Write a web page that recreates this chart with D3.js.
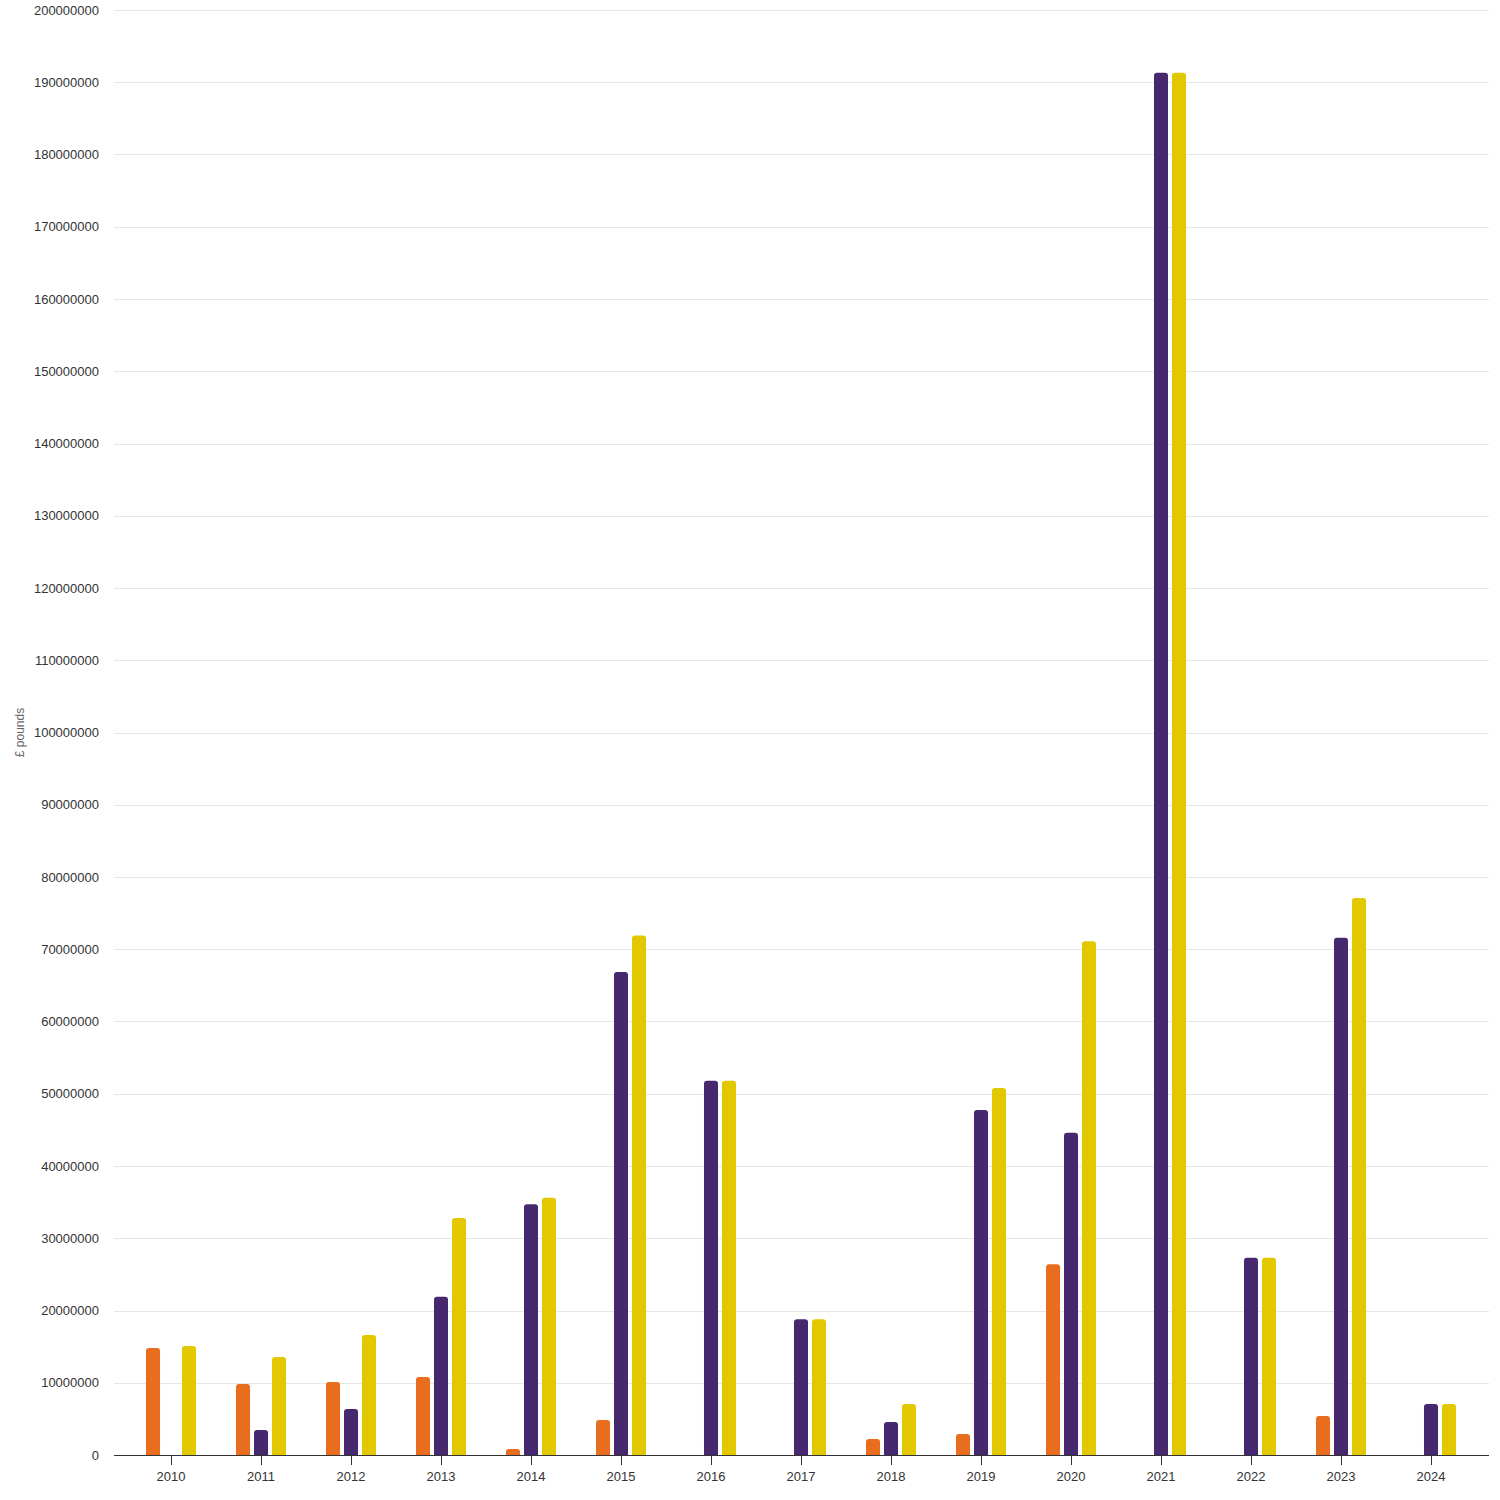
<!DOCTYPE html>
<html><head><meta charset="utf-8">
<script src="https://cdn.jsdelivr.net/npm/d3@7"></script>
<style>body{margin:0;background:#fff;font-family:"Liberation Sans",Arial,sans-serif;}</style>
</head><body><div id="chart"></div>
<script>
const years = ["2010","2011","2012","2013","2014","2015","2016","2017","2018","2019","2020","2021","2022","2023","2024"];
const seriesNames = ["Series A","Series B","Series C"];
const seriesA = [14800000, 9830000, 10100000, 10800000, 830000, 4840000, 0, 0, 2200000, 2900000, 26400000, 0, 0, 5400000, 0];
const seriesB = [0, 3460000, 6370000, 21900000, 34700000, 66850000, 51800000, 18800000, 4570000, 47750000, 44600000, 191300000, 27300000, 71600000, 7060000];
const seriesC = [15100000, 13560000, 16600000, 32800000, 35600000, 71900000, 51800000, 18800000, 7060000, 50800000, 71100000, 191300000, 27300000, 77100000, 7060000];
const colors = ["#E86D1F", "#46286F", "#E1C800"];
const yTicks = d3.range(0, 200000001, 10000000);
const yLabel = "£ pounds";

const W = 1500, H = 1500;
const plotL = 114, plotR = 1489, plotTop = 10, plotBottom = 1455;
const svg = d3.select("#chart").append("svg").attr("width", W).attr("height", H);

const x = d3.scaleBand().domain(years).range([126, 1476]).paddingInner(0).paddingOuter(0);
const x1 = d3.scaleBand().domain([0,1,2]).range([-25, 25]).paddingInner(0.22).paddingOuter(0);
const y = d3.scaleLinear().domain([0, 200000000]).range([plotBottom, plotTop]);

// grid
svg.append("g").selectAll("line").data(yTicks.filter(d => d > 0)).join("line")
  .attr("x1", plotL).attr("x2", plotR)
  .attr("y1", d => Math.round(y(d)) + 0.5).attr("y2", d => Math.round(y(d)) + 0.5)
  .attr("stroke", "#e6e6e6").attr("stroke-width", 1);

// y tick labels
svg.append("g").selectAll("text").data(yTicks).join("text")
  .attr("x", 99).attr("y", d => y(d)).attr("dy", "0.35em")
  .attr("text-anchor", "end").attr("font-size", 13).attr("fill", "#333")
  .text(d => d3.format("d")(d));

// y label
svg.append("text").attr("transform", `translate(24,${(plotTop+plotBottom)/2}) rotate(-90)`)
  .attr("text-anchor", "middle").attr("font-size", 12).attr("fill", "#666").text(yLabel);

// bars
const data = [seriesA, seriesB, seriesC];
const r = 3;
function barPath(x0, w, yTop, yBot) {
  const h = yBot - yTop;
  if (h <= 0) return "";
  const rr = Math.min(r, h, w/2);
  return `M${x0},${yBot}V${yTop+rr}Q${x0},${yTop} ${x0+rr},${yTop}H${x0+w-rr}Q${x0+w},${yTop} ${x0+w},${yTop+rr}V${yBot}Z`;
}
const center = d => x(d) + x.bandwidth()/2;
data.forEach((vals, si) => {
  svg.append("g").selectAll("path").data(years).join("path")
    .attr("d", (yr, i) => barPath(center(yr) + x1(si), x1.bandwidth(), y(vals[i]), y(0)))
    .attr("fill", colors[si]);
});

// x axis
const xa = svg.append("g");
xa.append("line").attr("x1", plotL).attr("x2", plotR).attr("y1", plotBottom + 0.5).attr("y2", plotBottom + 0.5)
  .attr("stroke", "#333").attr("stroke-width", 1);
xa.selectAll("line.tick").data(years).join("line").attr("class", "tick")
  .attr("x1", d => Math.round(center(d)) + 0.5).attr("x2", d => Math.round(center(d)) + 0.5)
  .attr("y1", plotBottom).attr("y2", plotBottom + 10).attr("stroke", "#333");
xa.selectAll("text").data(years).join("text")
  .attr("x", d => center(d)).attr("y", plotBottom + 21).attr("dy", "0.35em")
  .attr("text-anchor", "middle").attr("font-size", 13).attr("fill", "#333").text(d => d);
</script></body></html>
